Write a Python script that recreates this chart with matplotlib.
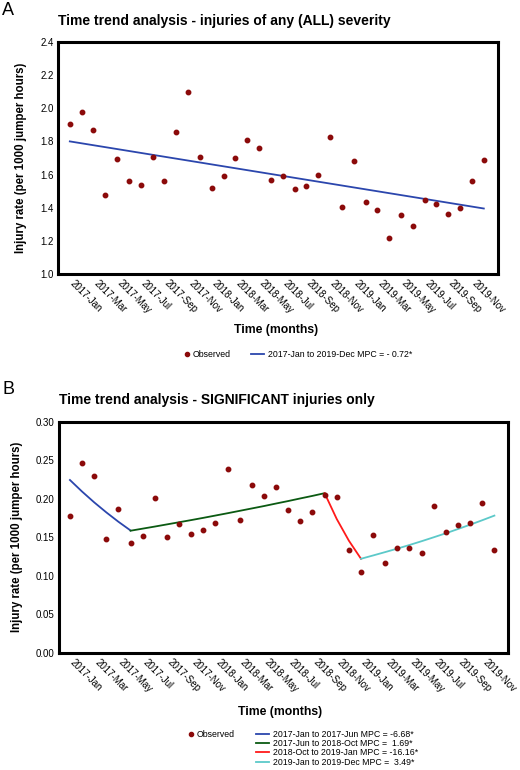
"""Joinpoint time trend plots: all injuries (A) and significant injuries (B)."""

import matplotlib
matplotlib.use("Agg")
import matplotlib.pyplot as plt
from matplotlib.lines import Line2D

plt.rcParams["font.family"] = ["Liberation Sans", "DejaVu Sans"]

# =============================================================================
# Data
months = list(range(36))  # 2017-Jan .. 2019-Dec
tick_pos = list(range(0, 36, 2))
tick_labels = [f"{y}-{m}" for y in (2017, 2018, 2019)
               for m in ("Jan", "Mar", "May", "Jul", "Sep", "Nov")]

all_obs = [1.906, 1.980, 1.866, 1.474, 1.693, 1.564, 1.538, 1.703, 1.564,
           1.858, 2.097, 1.707, 1.518, 1.591, 1.697, 1.811, 1.761, 1.570,
           1.591, 1.510, 1.532, 1.597, 1.826, 1.404, 1.683, 1.432, 1.386,
           1.215, 1.358, 1.287, 1.444, 1.422, 1.362, 1.396, 1.560, 1.687]
all_fit_x = [0, 35]
all_fit_y = [1.800, 1.395]
all_fit_label = "2017-Jan to 2019-Dec MPC = - 0.72*"

sig_obs = [0.178, 0.247, 0.230, 0.148, 0.187, 0.143, 0.152, 0.201, 0.150,
           0.167, 0.154, 0.160, 0.169, 0.239, 0.173, 0.218, 0.203, 0.215,
           0.186, 0.171, 0.183, 0.205, 0.202, 0.133, 0.105, 0.153, 0.116,
           0.136, 0.136, 0.129, 0.190, 0.157, 0.166, 0.168, 0.195, 0.133]

# fitted joinpoint segments (month index, fitted rate)
seg1_x = [0, 1, 2, 3, 4, 5]
seg1_y = [0.2243, 0.2093, 0.1953, 0.1823, 0.1701, 0.1588]
seg2_x = list(range(5, 22))
seg2_y = [0.1585, 0.1612, 0.1639, 0.1667, 0.1695, 0.1723, 0.1752, 0.1782,
          0.1812, 0.1843, 0.1874, 0.1905, 0.1938, 0.1970, 0.2004, 0.2037,
          0.2072]
seg3_x = [21, 22, 23, 24]
seg3_y = [0.2072, 0.1737, 0.1456, 0.1221]
seg4_x = list(range(24, 36))
seg4_y = [0.1221, 0.1264, 0.1308, 0.1353, 0.1400, 0.1449, 0.1500, 0.1552,
          0.1607, 0.1663, 0.1721, 0.1781]
seg_labels = ["2017-Jan to 2017-Jun MPC = -6.68*",
              "2017-Jun to 2018-Oct MPC =  1.69*",
              "2018-Oct to 2019-Jan MPC = -16.16*",
              "2019-Jan to 2019-Dec MPC =  3.49*"]
seg_colors = ["#2b46ad", "#0b5a12", "#ff1a1a", "#5cc9c9"]

DOT = "#8b0a0a"
FS = 7.0
LEG_FS = 6.3
W, H = 520, 770

# =============================================================================
fig = plt.figure(figsize=(5.2, 7.7), dpi=100)


def style_axes(ax, title, yticks, ylim, xlim, xlab_xy):
    ax.set_xlim(*xlim)
    ax.set_ylim(*ylim)
    ax.set_yticks(yticks)
    ax.set_xticks(tick_pos)
    ax.set_xticklabels(tick_labels, rotation=-45, ha="left", va="baseline",
                       rotation_mode="anchor", fontsize=FS)
    ax.tick_params(axis="both", length=0, labelsize=FS)
    ax.tick_params(axis="x", pad=7)
    ax.tick_params(axis="y", pad=3)
    for s in ax.spines.values():
        s.set_linewidth(2.2)
    ax.set_ylabel("Injury rate (per 1000 jumper hours)", fontsize=8.3,
                  fontweight="bold", labelpad=9.5)
    ax.set_xlabel("Time (months)", fontsize=8.8, fontweight="bold")
    ax.xaxis.set_label_coords(xlab_xy[0] / W, 1 - xlab_xy[1] / H,
                              transform=fig.transFigure)
    ax.xaxis.label.set_va("center")
    ax.set_title(title, fontsize=10.0, fontweight="bold", loc="left",
                 x=0.0, pad=12.5)


def add_legends(obs_xy, line_xy, handles, labels):
    h_obs = Line2D([], [], ls="none", marker="o", color=DOT, ms=3.0)
    fig.legend([h_obs], ["Observed"], loc="center left",
               bbox_to_anchor=(obs_xy[0] / W, 1 - obs_xy[1] / H),
               frameon=False, fontsize=LEG_FS, handlelength=0.6,
               handletextpad=0.39, borderpad=0, borderaxespad=0)
    fig.legend(handles, labels, loc="center left",
               bbox_to_anchor=(line_xy[0] / W, 1 - line_xy[1] / H),
               frameon=False, fontsize=LEG_FS, handlelength=1.5,
               handletextpad=0.4, labelspacing=0.02, borderpad=0,
               borderaxespad=0)


# Step 1: panel A
ax1 = fig.add_axes([0.1115, 0.6442, 0.8462, 0.3013])
ax1.plot(months, all_obs, "o", color=DOT, ms=3.2, zorder=3)
ax1.plot(all_fit_x, all_fit_y, color=seg_colors[0], lw=1.3)
style_axes(ax1, "Time trend analysis - injuries of any (ALL) severity",
           [1.0, 1.2, 1.4, 1.6, 1.8, 2.0, 2.2, 2.4], (1.0, 2.4), (-1.0, 36.2),
           (276, 330))
ax1.yaxis.set_major_formatter(plt.FormatStrFormatter("%.1f"))
add_legends((184.4, 354.3), (251, 354.3),
            [Line2D([], [], color=seg_colors[0], lw=1.3)], [all_fit_label])

# Step 2: panel B
ax2 = fig.add_axes([0.1135, 0.1521, 0.8629, 0.3003])
ax2.plot(months, sig_obs, "o", color=DOT, ms=3.2, zorder=3)
seg_x = [seg1_x, seg2_x, seg3_x, seg4_x]
seg_y = [seg1_y, seg2_y, seg3_y, seg4_y]
for xs, ys, c in zip(seg_x, seg_y, seg_colors):
    ax2.plot(xs, ys, color=c, lw=1.3)
style_axes(ax2, "Time trend analysis - SIGNIFICANT injuries only",
           [0.0, 0.05, 0.10, 0.15, 0.20, 0.25, 0.30], (0.0, 0.30),
           (-0.9, 36.1), (280, 712.3))
ax2.yaxis.set_major_formatter(plt.FormatStrFormatter("%.2f"))
add_legends((188.1, 734.3), (256, 748.3),
            [Line2D([], [], color=c, lw=1.3) for c in seg_colors], seg_labels)

# Step 3: panel letters
fig.text(0.004, 0.997, "A", fontsize=13, va="top", ha="left")
fig.text(0.004, 0.505, "B", fontsize=13, va="top", ha="left")

fig.savefig("out.png", dpi=100)
print("Finished.")
